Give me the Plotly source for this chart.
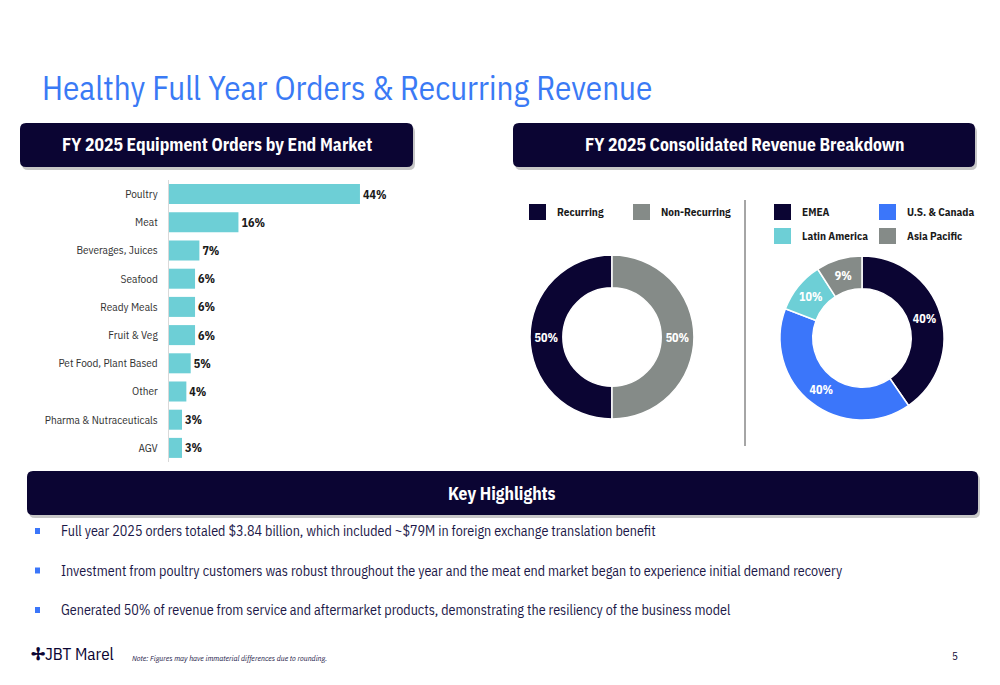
import plotly.graph_objects as go

# ---------------- data ----------------
markets = ["Poultry", "Meat", "Beverages, Juices", "Seafood", "Ready Meals", "Fruit & Veg",
           "Pet Food, Plant Based", "Other", "Pharma & Nutraceuticals", "AGV"]
market_share = [44, 16, 7, 6, 6, 6, 5, 4, 3, 3]

rev_type_labels = ["Recurring", "Non-Recurring"]
rev_type_values = [50, 50]

region_labels = ["EMEA", "U.S. & Canada", "Latin America", "Asia Pacific"]
region_values = [40, 40, 10, 9]

bullets = [
    "Full year 2025 orders totaled $3.84 billion, which included ~$79M in foreign exchange translation benefit",
    "Investment from poultry customers was robust throughout the year and the meat end market began to experience initial demand recovery",
    "Generated 50% of revenue from service and aftermarket products, demonstrating the resiliency of the business model",
]

title = "Healthy Full Year Orders & Recurring Revenue"
panel_titles = ["FY 2025 Equipment Orders by End Market", "FY 2025 Consolidated Revenue Breakdown", "Key Highlights"]
note = "Note: Figures may have immaterial differences due to rounding."
page_no = "5"

# ---------------- style ----------------
NAVY = "#0B0533"
BLUE = "#3B76FA"
TEAL = "#6DCFD6"
GRAY = "#858B88"
TITLE_BLUE = "#3A7AF5"
FONT = "IBM Plex Sans Condensed, Roboto Condensed, sans-serif"

W, H = 1000, 685


def px(x):
    return x / W


def py(y):
    return 1 - y / H


def rrect(x0, y0, x1, y1, r):
    pts = [
        f"M {px(x0 + r)},{py(y0)}",
        f"L {px(x1 - r)},{py(y0)}",
        f"Q {px(x1)},{py(y0)} {px(x1)},{py(y0 + r)}",
        f"L {px(x1)},{py(y1 - r)}",
        f"Q {px(x1)},{py(y1)} {px(x1 - r)},{py(y1)}",
        f"L {px(x0 + r)},{py(y1)}",
        f"Q {px(x0)},{py(y1)} {px(x0)},{py(y1 - r)}",
        f"L {px(x0)},{py(y0 + r)}",
        f"Q {px(x0)},{py(y0)} {px(x0 + r)},{py(y0)}",
        "Z",
    ]
    return " ".join(pts)


fig = go.Figure()

# ---------------- bar chart ----------------
fig.add_trace(go.Bar(
    x=market_share, y=markets, orientation="h",
    marker=dict(color=TEAL, line=dict(width=0)),
    texttemplate="<b>%{x}%</b>", textposition="outside",
    textfont=dict(family=FONT, size=12, color="#1A1A1A"),
    cliponaxis=False, hoverinfo="skip",
    xaxis="x", yaxis="y", showlegend=False,
))

# ---------------- donuts ----------------
fig.add_trace(go.Pie(
    labels=rev_type_labels, values=rev_type_values, hole=0.6, sort=False,
    direction="clockwise", rotation=180,
    marker=dict(colors=[NAVY, GRAY], line=dict(color="white", width=1.5)),
    texttemplate="<b>%{value}%</b>", textposition="inside", insidetextorientation="horizontal",
    textfont=dict(family=FONT, size=12, color="white"),
    domain=dict(x=[px(530), px(694)], y=[py(419), py(255)]),
    showlegend=False, hoverinfo="skip",
))
fig.add_trace(go.Pie(
    labels=region_labels, values=region_values, hole=0.6, sort=False,
    direction="clockwise", rotation=0,
    marker=dict(colors=[NAVY, BLUE, TEAL, GRAY], line=dict(color="white", width=1.5)),
    texttemplate="<b>%{value}%</b>", textposition="inside", insidetextorientation="horizontal",
    textfont=dict(family=FONT, size=12, color="white"),
    domain=dict(x=[px(780), px(944)], y=[py(420), py(256)]),
    showlegend=False, hoverinfo="skip",
))

shapes = []
annotations = []

# header bars
bars_geo = [(20, 123, 413, 167), (513, 123, 975, 167), (27, 471, 978, 515)]
for (x0, y0, x1, y1), txt in zip(bars_geo, panel_titles):
    shapes.append(dict(type="path", xref="paper", yref="paper",
                       path=rrect(x0 + 2, y0 + 3, x1 + 2, y1 + 3, 6),
                       fillcolor="rgba(0,0,0,0.22)", line=dict(width=0), layer="below"))
    shapes.append(dict(type="path", xref="paper", yref="paper",
                       path=rrect(x0, y0, x1, y1, 6),
                       fillcolor=NAVY, line=dict(width=0), layer="below"))
    annotations.append(dict(x=px((x0 + x1) / 2), y=py((y0 + y1) / 2), xref="paper", yref="paper",
                            text=f"<b>{txt}</b>", showarrow=False, xanchor="center", yanchor="middle",
                            font=dict(family=FONT, size=17.5, color="white")))

# title
annotations.append(dict(x=px(40), y=py(88), xref="paper", yref="paper", text=title, showarrow=False,
                        xanchor="left", yanchor="middle", font=dict(family=FONT, size=33, color=TITLE_BLUE)))

# legend: revenue type
leg1 = [(529, 212), (633, 212)]
for (lx, ly), lab, col in zip(leg1, rev_type_labels, [NAVY, GRAY]):
    shapes.append(dict(type="rect", xref="paper", yref="paper", x0=px(lx), x1=px(lx + 17),
                       y0=py(ly + 8), y1=py(ly - 8), fillcolor=col, line=dict(width=0)))
    annotations.append(dict(x=px(lx + 26), y=py(ly), xref="paper", yref="paper", text=f"<b>{lab}</b>",
                            showarrow=False, xanchor="left", yanchor="middle",
                            font=dict(family=FONT, size=11.2, color="#1A1A1A")))

# legend: regions
leg2 = [(774, 212), (879, 212), (774, 236), (879, 236)]
for (lx, ly), lab, col in zip(leg2, region_labels, [NAVY, BLUE, TEAL, GRAY]):
    shapes.append(dict(type="rect", xref="paper", yref="paper", x0=px(lx), x1=px(lx + 17),
                       y0=py(ly + 8), y1=py(ly - 8), fillcolor=col, line=dict(width=0)))
    annotations.append(dict(x=px(lx + 26), y=py(ly), xref="paper", yref="paper", text=f"<b>{lab}</b>",
                            showarrow=False, xanchor="left", yanchor="middle",
                            font=dict(family=FONT, size=11.2, color="#1A1A1A")))

# separator
shapes.append(dict(type="line", xref="paper", yref="paper", x0=px(745), x1=px(745),
                   y0=py(200), y1=py(446), line=dict(color="#4D4D4D", width=1)))

# bullets
for i, b in enumerate(bullets):
    yy = 531 + i * 39.5
    shapes.append(dict(type="rect", xref="paper", yref="paper", x0=px(35), x1=px(40),
                       y0=py(yy + 3), y1=py(yy - 3), fillcolor=BLUE, line=dict(width=0)))
    annotations.append(dict(x=px(59), y=py(yy), xref="paper", yref="paper", text=b, showarrow=False,
                            xanchor="left", yanchor="middle", font=dict(family=FONT, size=14, color="#1C1848")))

# footer
annotations.append(dict(x=px(29), y=py(654), xref="paper", yref="paper", text="<b>✢</b>JBT Marel",
                        showarrow=False, xanchor="left", yanchor="middle",
                        font=dict(family=FONT, size=17, color=NAVY)))
annotations.append(dict(x=px(130), y=py(658), xref="paper", yref="paper", text=f"<i>{note}</i>",
                        showarrow=False, xanchor="left", yanchor="middle",
                        font=dict(family=FONT, size=7.7, color="#1C1848")))
annotations.append(dict(x=px(955), y=py(656), xref="paper", yref="paper", text=page_no,
                        showarrow=False, xanchor="center", yanchor="middle",
                        font=dict(family=FONT, size=11, color=NAVY)))

fig.update_layout(
    width=W, height=H, margin=dict(l=0, r=0, t=0, b=0),
    paper_bgcolor="white", plot_bgcolor="white",
    xaxis=dict(domain=[px(169), px(386)], range=[0, 50], visible=False, fixedrange=True),
    yaxis=dict(domain=[py(462), py(180)], autorange="reversed", showline=True, linecolor="#D9D9D9",
               linewidth=1, ticks="", showgrid=False, zeroline=False, ticklabelstandoff=8,
               tickfont=dict(family=FONT, size=11.2, color="#333333")),
    bargap=0.29,
    shapes=shapes, annotations=annotations,
    font=dict(family=FONT),
)

fig.write_html("out.html")
